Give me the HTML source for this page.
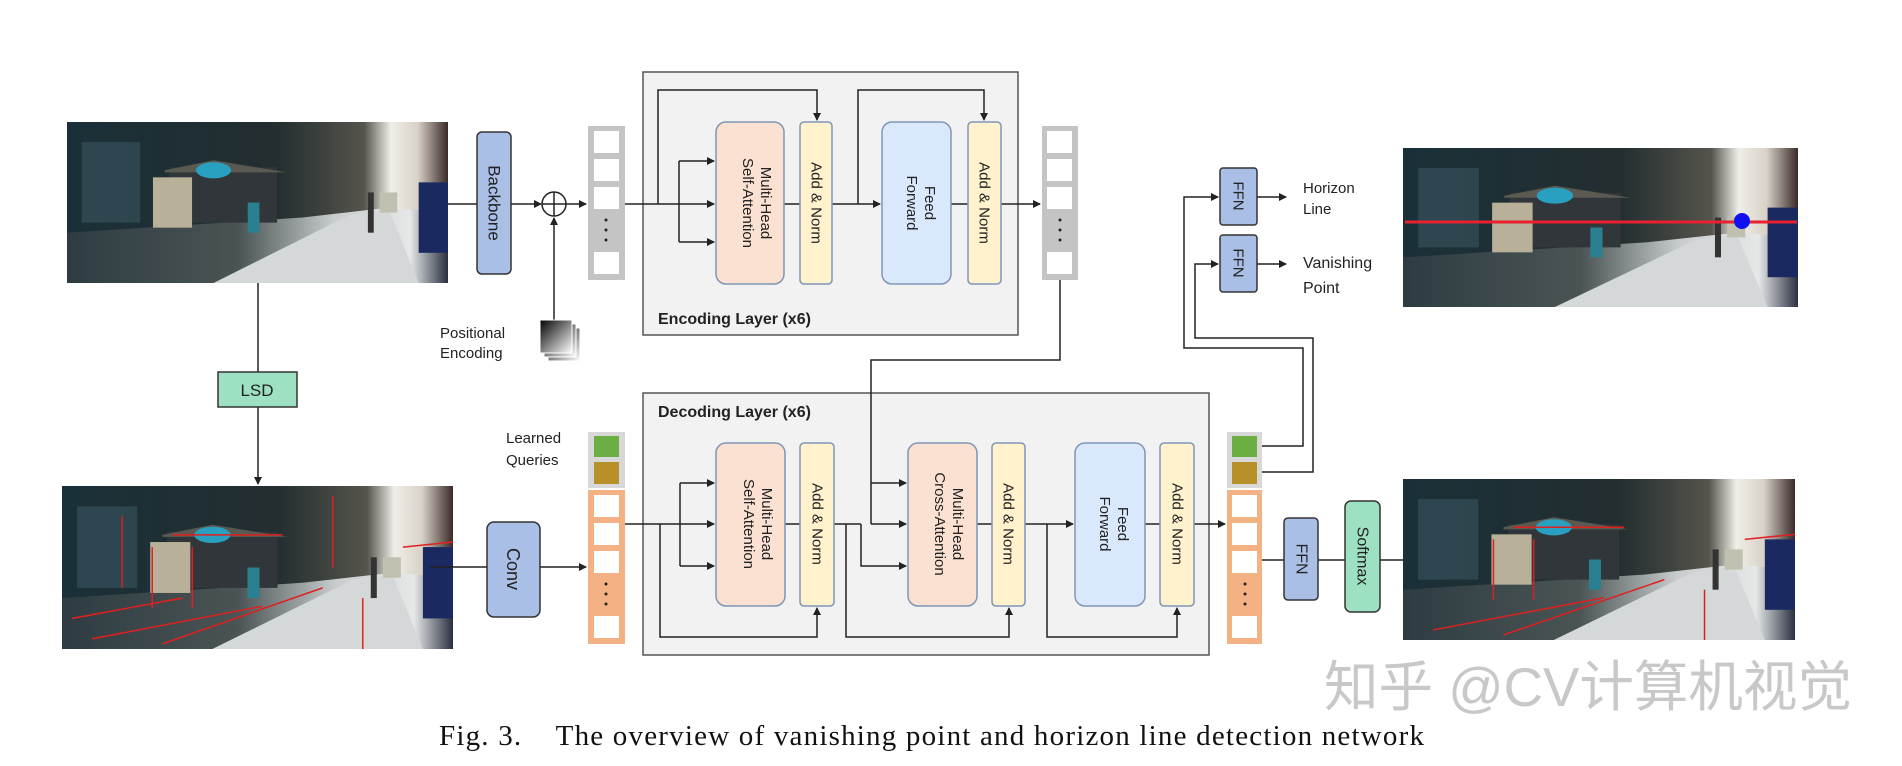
<!DOCTYPE html>
<html><head><meta charset="utf-8"><style>
body{margin:0;background:#fff;}
svg{display:block}
text{font-family:"Liberation Sans",Arial,sans-serif;fill:#222}
</style></head><body>
<svg width="1902" height="766" viewBox="0 0 1902 766" xmlns="http://www.w3.org/2000/svg">
<defs>
<marker id="ar" markerWidth="8" markerHeight="8" refX="7" refY="4" orient="auto" markerUnits="userSpaceOnUse"><path d="M0,0 L8,4 L0,8 z" fill="#222"/></marker>
<linearGradient id="sky" x1="0" y1="0" x2="1" y2="0"><stop offset="0" stop-color="#1a3038"/><stop offset="0.55" stop-color="#232e30"/><stop offset="0.78" stop-color="#55544c"/><stop offset="0.85" stop-color="#f0eee8"/><stop offset="0.92" stop-color="#d8d2c8"/><stop offset="1" stop-color="#3a2a28"/></linearGradient>
<linearGradient id="road" x1="0" y1="0" x2="1" y2="0"><stop offset="0" stop-color="#2e3c42"/><stop offset="0.45" stop-color="#4a5454"/><stop offset="0.7" stop-color="#c8cccc"/><stop offset="0.9" stop-color="#e6e8e8"/><stop offset="1" stop-color="#2a3040"/></linearGradient>
<linearGradient id="pe" x1="0" y1="0" x2="1" y2="1"><stop offset="0" stop-color="#000"/><stop offset="1" stop-color="#fff"/></linearGradient>
<g id="street">
<rect x="0" y="0" width="390" height="160" fill="url(#sky)"/>
<polygon points="0,110 240,95 330,85 390,90 390,160 0,160" fill="url(#road)"/>
<polygon points="150,160 290,92 330,88 360,160" fill="#d4d8d8"/>
<rect x="15" y="20" width="60" height="80" fill="#34505a" opacity="0.7"/>
<rect x="105" y="45" width="110" height="55" fill="#30363a"/>
<polygon points="100,48 150,38 225,50 100,50" fill="#5a5a52"/>
<ellipse cx="150" cy="48" rx="18" ry="8" fill="#2aa0c0"/>
<rect x="88" y="55" width="40" height="50" fill="#b8b098"/>
<rect x="185" y="80" width="12" height="30" fill="#2a8090"/>
<rect x="360" y="60" width="30" height="70" fill="#1a2a60"/>
<rect x="320" y="70" width="18" height="20" fill="#c0c0b0"/>
<rect x="308" y="70" width="6" height="40" fill="#333"/>
</g>
</defs>

<svg x="67" y="122" width="381" height="161" viewBox="0 0 390 160" preserveAspectRatio="none"><use href="#street"/></svg>
<svg x="62" y="486" width="391" height="163" viewBox="0 0 390 160" preserveAspectRatio="none"><use href="#street"/>
<g stroke="#e02020" stroke-width="1.5" fill="none"><path d="M10,130 L120,110"/><path d="M30,150 L200,118"/><path d="M100,155 L260,100"/><path d="M90,60 L90,120"/><path d="M130,60 L130,120"/><path d="M270,10 L270,80"/><path d="M340,60 L390,55"/><path d="M110,48 L220,48"/><path d="M60,30 L60,100"/><path d="M300,110 L300,160"/></g></svg>
<svg x="1403" y="148" width="395" height="159" viewBox="0 0 390 160" preserveAspectRatio="none"><use href="#street"/></svg>
<line x1="1405" y1="222" x2="1797" y2="222" stroke="#e82030" stroke-width="3"/>
<circle cx="1742" cy="221" r="8" fill="#1010f0"/>
<svg x="1403" y="479" width="392" height="161" viewBox="0 0 390 160" preserveAspectRatio="none"><use href="#street"/>
<g stroke="#e02020" stroke-width="1.5" fill="none"><path d="M30,150 L200,118"/><path d="M100,155 L260,100"/><path d="M90,60 L90,120"/><path d="M130,60 L130,120"/><path d="M340,60 L390,55"/><path d="M110,48 L220,48"/><path d="M300,110 L300,160"/></g></svg>

<rect x="643" y="72" width="375" height="263" fill="#f2f2f2" stroke="#555" stroke-width="1.5"/>
<text x="658" y="324" font-size="16" font-weight="bold">Encoding Layer (x6)</text>
<rect x="643" y="393" width="566" height="262" fill="#f2f2f2" stroke="#555" stroke-width="1.5"/>
<text x="658" y="417" font-size="16" font-weight="bold">Decoding Layer (x6)</text>

<g stroke="#222" stroke-width="1.5" fill="none">
<line x1="448" y1="204" x2="477" y2="204"/>
<line x1="511" y1="204" x2="541" y2="204" marker-end="url(#ar)"/>
<line x1="566" y1="204" x2="586" y2="204" marker-end="url(#ar)"/>
<line x1="554" y1="320" x2="554" y2="218" marker-end="url(#ar)"/>
<line x1="625" y1="204" x2="679" y2="204"/>
<path d="M679,161 V242"/>
<line x1="679" y1="161" x2="714" y2="161" marker-end="url(#ar)"/>
<line x1="679" y1="204" x2="714" y2="204" marker-end="url(#ar)"/>
<line x1="679" y1="242" x2="714" y2="242" marker-end="url(#ar)"/>
<path d="M658,204 V90 H817 V120" marker-end="url(#ar)"/>
<line x1="784" y1="204" x2="800" y2="204"/>
<line x1="832" y1="204" x2="880" y2="204" marker-end="url(#ar)"/>
<path d="M858,204 V90 H984 V120" marker-end="url(#ar)"/>
<line x1="951" y1="204" x2="968" y2="204"/>
<line x1="1001" y1="204" x2="1040" y2="204" marker-end="url(#ar)"/>
<path d="M1060,280 V360 H871 V524"/>
<line x1="871" y1="483" x2="906" y2="483" marker-end="url(#ar)"/>
<line x1="871" y1="524" x2="906" y2="524" marker-end="url(#ar)"/>
<line x1="258" y1="283" x2="258" y2="372"/>
<line x1="258" y1="407" x2="258" y2="484" marker-end="url(#ar)"/>
<line x1="430" y1="567" x2="487" y2="567"/>
<line x1="540" y1="567" x2="586" y2="567" marker-end="url(#ar)"/>
<line x1="625" y1="524" x2="680" y2="524"/>
<path d="M680,483 V566"/>
<line x1="680" y1="483" x2="714" y2="483" marker-end="url(#ar)"/>
<line x1="680" y1="524" x2="714" y2="524" marker-end="url(#ar)"/>
<line x1="680" y1="566" x2="714" y2="566" marker-end="url(#ar)"/>
<path d="M660,524 V637 H817 V608" marker-end="url(#ar)"/>
<line x1="785" y1="524" x2="800" y2="524"/>
<line x1="834" y1="524" x2="861" y2="524"/>
<path d="M861,524 V566 H906" marker-end="url(#ar)"/>
<path d="M846,524 V637 H1009 V608" marker-end="url(#ar)"/>
<line x1="977" y1="524" x2="992" y2="524"/>
<line x1="1025" y1="524" x2="1073" y2="524" marker-end="url(#ar)"/>
<path d="M1047,524 V637 H1177 V608" marker-end="url(#ar)"/>
<line x1="1145" y1="524" x2="1160" y2="524"/>
<line x1="1194" y1="524" x2="1225" y2="524" marker-end="url(#ar)"/>
<path d="M1262,446 H1303 V348 H1184 V197 H1218" marker-end="url(#ar)"/>
<path d="M1262,472 H1313 V338 H1195 V264 H1218" marker-end="url(#ar)"/>
<line x1="1257" y1="197" x2="1286" y2="197" marker-end="url(#ar)"/>
<line x1="1257" y1="264" x2="1286" y2="264" marker-end="url(#ar)"/>
<line x1="1262" y1="560" x2="1284" y2="560"/>
<line x1="1318" y1="560" x2="1345" y2="560"/>
<line x1="1380" y1="560" x2="1403" y2="560"/>
</g>
<circle cx="554" cy="204" r="12" fill="none" stroke="#222" stroke-width="1.5"/>
<line x1="542" y1="204" x2="566" y2="204" stroke="#222" stroke-width="1.5"/>
<line x1="554" y1="192" x2="554" y2="216" stroke="#222" stroke-width="1.5"/>

<g stroke="#333" stroke-width="1.5">
<rect x="477" y="132" width="34" height="142" rx="5" fill="#a9bfe6"/>
<rect x="487" y="522" width="53" height="95" rx="7" fill="#a9bfe6"/>
<rect x="218" y="372" width="79" height="35" fill="#9ee0c2"/>
<rect x="1220" y="168" width="37" height="57" rx="3" fill="#a9bfe6"/>
<rect x="1220" y="235" width="37" height="57" rx="3" fill="#a9bfe6"/>
<rect x="1284" y="518" width="34" height="82" rx="4" fill="#a9bfe6"/>
<rect x="1345" y="501" width="35" height="111" rx="6" fill="#9ee0c2"/>
</g>
<g stroke="#7f96b8" stroke-width="1.5">
<rect x="716" y="122" width="68" height="162" rx="10" fill="#fbe1d2"/>
<rect x="800" y="122" width="32" height="162" rx="4" fill="#fff2cc"/>
<rect x="882" y="122" width="69" height="162" rx="10" fill="#dae8fc"/>
<rect x="968" y="122" width="33" height="162" rx="4" fill="#fff2cc"/>
<rect x="716" y="443" width="69" height="163" rx="10" fill="#fbe1d2"/>
<rect x="800" y="443" width="34" height="163" rx="4" fill="#fff2cc"/>
<rect x="908" y="443" width="69" height="163" rx="10" fill="#fbe1d2"/>
<rect x="992" y="443" width="33" height="163" rx="4" fill="#fff2cc"/>
<rect x="1075" y="443" width="70" height="163" rx="10" fill="#dae8fc"/>
<rect x="1160" y="443" width="34" height="163" rx="4" fill="#fff2cc"/>
</g>

<g>
<rect x="588" y="126" width="37" height="154" fill="#c4c4c4"/>
<rect x="1042" y="126" width="36" height="154" fill="#c4c4c4"/>
<rect x="588" y="432" width="37" height="56" fill="#d8d8d8"/>
<rect x="594" y="436" width="25" height="21" fill="#6aae44"/>
<rect x="594" y="462" width="25" height="22" fill="#b8902a"/>
<rect x="588" y="490" width="37" height="154" fill="#f4b183"/>
<rect x="1227" y="432" width="35" height="56" fill="#d8d8d8"/>
<rect x="1232" y="436" width="25" height="21" fill="#6aae44"/>
<rect x="1232" y="462" width="25" height="22" fill="#b8902a"/>
<rect x="1227" y="490" width="35" height="154" fill="#f4b183"/>
</g>
<g fill="#fff">
<rect x="594" y="131" width="25" height="22"/><rect x="594" y="159" width="25" height="22"/><rect x="594" y="187" width="25" height="22"/><rect x="594" y="252" width="25" height="22"/>
<rect x="1047" y="131" width="25" height="22"/><rect x="1047" y="159" width="25" height="22"/><rect x="1047" y="187" width="25" height="22"/><rect x="1047" y="252" width="25" height="22"/>
<rect x="594" y="495" width="25" height="22"/><rect x="594" y="523" width="25" height="22"/><rect x="594" y="551" width="25" height="22"/><rect x="594" y="616" width="25" height="22"/>
<rect x="1232" y="495" width="25" height="22"/><rect x="1232" y="523" width="25" height="22"/><rect x="1232" y="551" width="25" height="22"/><rect x="1232" y="616" width="25" height="22"/>
</g>
<g fill="#222">
<circle cx="606" cy="220" r="1.5"/><circle cx="606" cy="230" r="1.5"/><circle cx="606" cy="240" r="1.5"/>
<circle cx="1060" cy="220" r="1.5"/><circle cx="1060" cy="230" r="1.5"/><circle cx="1060" cy="240" r="1.5"/>
<circle cx="606" cy="584" r="1.5"/><circle cx="606" cy="594" r="1.5"/><circle cx="606" cy="604" r="1.5"/>
<circle cx="1245" cy="584" r="1.5"/><circle cx="1245" cy="594" r="1.5"/><circle cx="1245" cy="604" r="1.5"/>
</g>

<rect x="548" y="328" width="32" height="33" fill="url(#pe)" stroke="#fff"/>
<rect x="544" y="324" width="32" height="33" fill="url(#pe)" stroke="#fff"/>
<rect x="540" y="320" width="32" height="33" fill="url(#pe)" stroke="#fff"/>
<text x="440" y="338" font-size="15">Positional</text>
<text x="440" y="358" font-size="15">Encoding</text>
<text x="506" y="443" font-size="15">Learned</text>
<text x="506" y="465" font-size="15">Queries</text>
<text x="1303" y="193" font-size="15">Horizon</text>
<text x="1303" y="214" font-size="15">Line</text>
<text x="1303" y="268" font-size="16">Vanishing</text>
<text x="1303" y="293" font-size="16">Point</text>
<text x="257" y="396" font-size="17" text-anchor="middle">LSD</text>

<g font-size="15">
<text transform="translate(494,203) rotate(90)" text-anchor="middle" dominant-baseline="central" font-size="17">Backbone</text>
<text transform="translate(513,569) rotate(90)" text-anchor="middle" dominant-baseline="central" font-size="18">Conv</text>
<text transform="translate(1238,196) rotate(90)" text-anchor="middle" dominant-baseline="central">FFN</text>
<text transform="translate(1238,263) rotate(90)" text-anchor="middle" dominant-baseline="central">FFN</text>
<text transform="translate(1301,559) rotate(90)" text-anchor="middle" dominant-baseline="central" font-size="16">FFN</text>
<text transform="translate(1362,556) rotate(90)" text-anchor="middle" dominant-baseline="central" font-size="16">Softmax</text>
<text transform="translate(757,203) rotate(90)" text-anchor="middle" dominant-baseline="central"><tspan x="0" dy="-9">Multi-Head</tspan><tspan x="0" dy="18">Self-Attention</tspan></text>
<text transform="translate(816,203) rotate(90)" text-anchor="middle" dominant-baseline="central">Add &amp; Norm</text>
<text transform="translate(921,203) rotate(90)" text-anchor="middle" dominant-baseline="central"><tspan x="0" dy="-9">Feed</tspan><tspan x="0" dy="18">Forward</tspan></text>
<text transform="translate(984,203) rotate(90)" text-anchor="middle" dominant-baseline="central">Add &amp; Norm</text>
<text transform="translate(758,524) rotate(90)" text-anchor="middle" dominant-baseline="central"><tspan x="0" dy="-9">Multi-Head</tspan><tspan x="0" dy="18">Self-Attention</tspan></text>
<text transform="translate(817,524) rotate(90)" text-anchor="middle" dominant-baseline="central">Add &amp; Norm</text>
<text transform="translate(949,524) rotate(90)" text-anchor="middle" dominant-baseline="central"><tspan x="0" dy="-9">Multi-Head</tspan><tspan x="0" dy="18">Cross-Attention</tspan></text>
<text transform="translate(1008,524) rotate(90)" text-anchor="middle" dominant-baseline="central">Add &amp; Norm</text>
<text transform="translate(1114,524) rotate(90)" text-anchor="middle" dominant-baseline="central"><tspan x="0" dy="-9">Feed</tspan><tspan x="0" dy="18">Forward</tspan></text>
<text transform="translate(1177,524) rotate(90)" text-anchor="middle" dominant-baseline="central">Add &amp; Norm</text>
</g>

<text x="1324" y="706" font-size="55" textLength="528" lengthAdjust="spacingAndGlyphs" style="font-family:'Liberation Sans','Noto Sans CJK SC',sans-serif;fill:#c8c8c8">知乎 @CV计算机视觉</text>
<text x="439" y="745" font-size="29" textLength="985" lengthAdjust="spacing" xml:space="preserve" style="font-family:'Liberation Serif',serif;fill:#111">Fig. 3.    The overview of vanishing point and horizon line detection network</text>
</svg>
</body></html>
